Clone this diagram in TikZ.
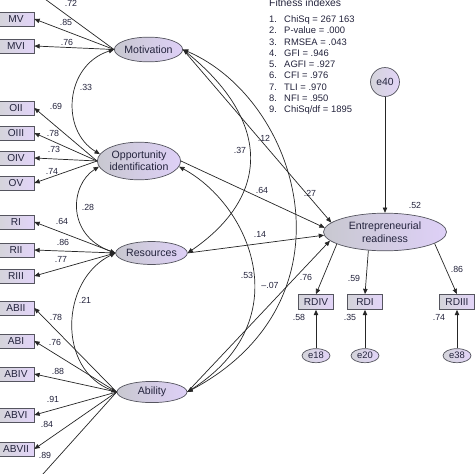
\documentclass[tikz,border=0pt]{standalone}
\usepackage{fontspec}
\setmainfont{Liberation Sans}
\usepackage{tikz}
\usetikzlibrary{positioning, arrows.meta, shapes.geometric}
\definecolor{latgray}{RGB}{200,200,208}
\definecolor{latlav}{RGB}{222,208,247}
\definecolor{boxgray}{RGB}{212,212,218}
\definecolor{boxlav}{RGB}{226,212,248}
\definecolor{edgegray}{RGB}{85,85,95}
\definecolor{inkblue}{RGB}{35,35,60}

\begin{document}
\begin{tikzpicture}[x=0.85pt, y=-0.85pt, node distance=32.7pt,
  lat/.style={ellipse, draw=edgegray, line width=0.6pt, left color=latgray, right color=latlav, inner sep=0pt, align=center, text=inkblue, font=\fontsize{9}{10.2}\selectfont},
  obs/.style={draw=edgegray, line width=0.6pt, left color=boxgray, right color=boxlav, minimum width=30.6pt, minimum height=11.9pt, inner sep=0pt, text=inkblue, font=\fontsize{8.6}{9}\selectfont},
  err/.style={ellipse, draw=edgegray, line width=0.6pt, left color=boxgray, right color=boxlav, minimum width=23.8pt, minimum height=11.9pt, inner sep=0pt, text=inkblue, font=\fontsize{8}{9}\selectfont},
  lbl/.style={inner sep=0pt, text=inkblue, font=\fontsize{7.5}{8}\selectfont},
  fitx/.style={anchor=base west, inner sep=0pt, text=inkblue},
  arr/.style={-{Triangle[length=4.5pt,width=3.8pt]}, line width=0.6pt, draw=black!85},
  cov/.style={{Triangle[length=4.5pt,width=3.8pt]}-{Triangle[length=4.5pt,width=3.8pt]}, line width=0.6pt, draw=black!85}]
  \useasboundingbox (0,0) rectangle (474,474);

  \node[lat, minimum width=57pt, minimum height=21pt] (mot) at (148.5,49.5) {Motivation};
  \node[lat, minimum width=70pt, minimum height=32pt] (opp) at (139,161) {Opportunity\\identification};
  \node[lat, minimum width=60pt, minimum height=19.5pt] (res) at (151.5,253) {Resources};
  \node[lat, minimum width=59.5pt, minimum height=18pt] (abl) at (152,392) {Ability};
  \node[lat, minimum width=104.5pt, minimum height=32pt, font=\fontsize{9}{11}\selectfont] (er) at (385,232) {Entrepreneurial\\readiness};
  \node[err, circle, minimum size=24.6pt, font=\fontsize{8.8}{9}\selectfont] (e40) at (385,82) {e40};

  \coordinate (m4) at (34,-9);
  \node[obs] (m5) at (16,19) {MV};
  \node[obs] (m6) at (16,46) {MVI};
  \node[obs] (o2) at (16,108) {OII};
  \node[obs] (o3) at (16,133) {OIII};
  \node[obs] (o4) at (16,158) {OIV};
  \node[obs] (o5) at (16,183) {OV};
  \node[obs] (r1) at (16,222) {RI};
  \node[obs] (r2) at (16,250) {RII};
  \node[obs] (r3) at (16,276) {RIII};
  \node[obs] (ab2) at (16,308) {ABII};
  \node[obs] (ab1) at (16,341) {ABI};
  \node[obs] (ab4) at (16,374) {ABIV};
  \node[obs] (ab6) at (16,415) {ABVI};
  \node[obs] (ab7) at (16,449) {ABVII};
  \coordinate (ab8) at (34,484);

  \node[obs, minimum width=29.75pt, minimum height=12.75pt] (rd4) at (316,302) {RDIV};
  \node[obs, minimum width=29.75pt, minimum height=12.75pt] (rd1) at (365,302) {RDI};
  \node[obs, minimum width=29.75pt, minimum height=12.75pt] (rd3) at (457,302) {RDIII};
  \node[err, below=of rd4] (e18) {e18};
  \node[err, below=of rd1] (e20) {e20};
  \node[err, below=of rd3] (e38) {e38};

  \node[fitx, font=\fontsize{8.8}{10}\selectfont] (fithead) at (269,6.5) {Fitness indexes};
  \node[fitx, font=\fontsize{8}{9.56}\selectfont] (fitlist) at (269,22.6) {\begin{tabular}[t]{@{}p{12.75pt}@{}l@{}}
    1. & ChiSq = 267 163\\
    2. & P-value = .000\\
    3. & RMSEA = .043\\
    4. & GFI = .946\\
    5. & AGFI = .927\\
    6. & CFI = .976\\
    7. & TLI = .970\\
    8. & NFI = .950\\
    9. & ChiSq/df = 1895
  \end{tabular}};

  \draw[arr] (mot.west) -- (m4) node[lbl] at (71,3) {.72};
  \draw[arr] (mot.west) -- (m5.east) node[lbl] at (66,22) {.85};
  \draw[arr] (mot.west) -- (m6.east) node[lbl] at (67,42) {.76};
  \draw[arr] (opp.west) -- (o2.east) node[lbl] at (56,106) {.69};
  \draw[arr] (opp.west) -- (o3.east) node[lbl] at (53,133) {.78};
  \draw[arr] (opp.west) -- (o4.east) node[lbl] at (54,149) {.73};
  \draw[arr] (opp.west) -- (o5.east) node[lbl] at (52,171) {.74};
  \draw[arr] (res.west) -- (r1.east) node[lbl] at (62,221) {.64};
  \draw[arr] (res.west) -- (r2.east) node[lbl] at (63,242) {.86};
  \draw[arr] (res.west) -- (r3.east) node[lbl] at (61,259) {.77};
  \draw[arr] (abl.west) -- (ab2.east) node[lbl] at (56,317) {.78};
  \draw[arr] (abl.west) -- (ab1.east) node[lbl] at (55,342) {.76};
  \draw[arr] (abl.west) -- (ab4.east) node[lbl] at (58,371) {.88};
  \draw[arr] (abl.west) -- (ab6.east) node[lbl] at (53,399) {.91};
  \draw[arr] (abl.west) -- (ab7.east) node[lbl] at (47,424) {.84};
  \draw[arr] (abl.west) -- (ab8) node[lbl] at (45,455) {.89};

  \draw[cov] (mot.west) .. controls (65,65) and (60,130) .. (opp.170) node[lbl] at (86,87) {.33};
  \draw[cov] (opp.188) .. controls (70,185) and (66,235) .. (res.west) node[lbl] at (88,207) {.28};
  \draw[cov] (res.west) .. controls (60,280) and (57,370) .. (abl.west) node[lbl] at (85,300) {.21};
  \draw[cov] (mot.east) .. controls (270,120) and (272,195) .. (res.east) node[lbl] at (240,150) {.37};
  \draw[cov] (opp.-8) .. controls (250,205) and (300,320) .. (abl.east) node[lbl] at (247,275) {.53};
  \draw[cov] (mot.east) .. controls (300,100) and (360,300) .. (abl.east) node[lbl] at (310,193) {.27};

  \draw[arr] (mot.east) -- (er.170) node[lbl] at (264,138) {.12};
  \draw[arr] (opp.east) -- (er.176) node[lbl] at (262,190) {.64};
  \draw[arr] (res.east) -- (er.183) node[lbl] at (260,234) {.14};
  \draw[arr] (abl.east) -- (er.189) node[lbl] at (270,285) {–.07};

  \draw[arr] (e40) -- (er.north) node[lbl] at (415,205) {.52};
  \draw[arr] (er.194) -- (rd4.north) node[lbl] at (306,277) {.76};
  \draw[arr] (er.228) -- (rd1.north) node[lbl] at (354,278) {.59};
  \draw[arr] (er.347) -- (rd3.north) node[lbl] at (457,269) {.86};
  \draw[arr] (e18) -- (rd4.south) node[lbl] at (299,317) {.58};
  \draw[arr] (e20) -- (rd1.south) node[lbl] at (350,317) {.35};
  \draw[arr] (e38) -- (rd3.south) node[lbl] at (439,317) {.74};
\end{tikzpicture}
\end{document}
